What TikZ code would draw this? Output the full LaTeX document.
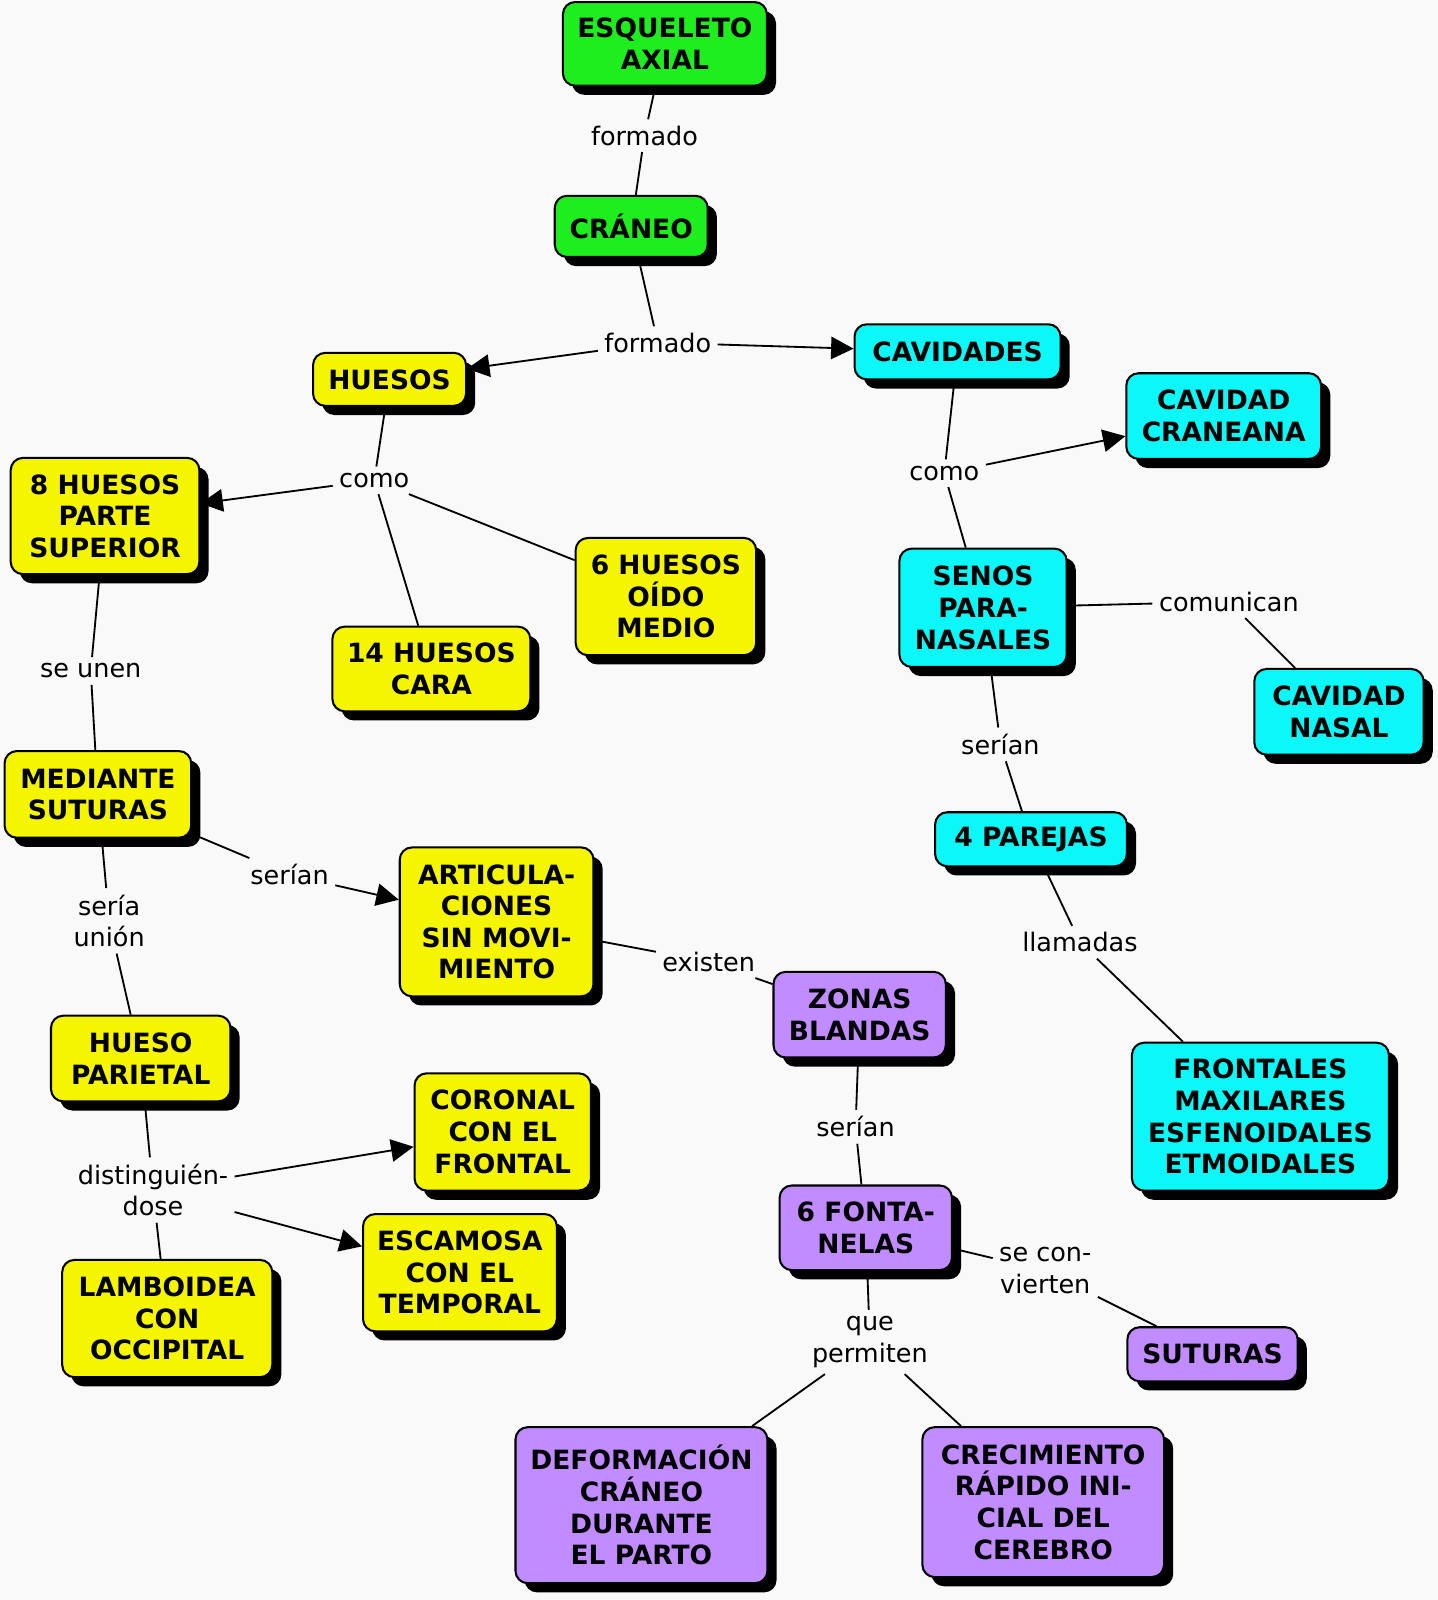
\documentclass[tikz,border=0pt]{standalone}
\usepackage{fontspec}
\setmainfont{DejaVu Sans}
\usetikzlibrary{arrows.meta,shadows}
\definecolor{bgc}{HTML}{F9F9F9}
\definecolor{grn}{HTML}{1EEE1E}
\definecolor{cyn}{HTML}{0CF7F7}
\definecolor{yel}{HTML}{F5F500}
\definecolor{pur}{HTML}{C08CFF}
\tikzset{
  cbox/.style={draw=black, line width=1pt, rounded corners=6pt, align=center,
    font=\bfseries\fontsize{13}{15.5}\selectfont, inner sep=0pt,
    drop shadow={shadow xshift=4.5pt, shadow yshift=-4.5pt, opacity=1, fill=black}},
  lbl/.style={align=center, font=\fontsize{12.5}{15.5}\selectfont, inner sep=3pt},
  conn/.style={line width=0.9pt, draw=black},
  arr/.style={conn, -{Triangle[length=11pt,width=11pt]}},
}
\begin{document}
\begin{tikzpicture}[x=0.5pt,y=-0.5pt]
\fill[bgc] (0,0) rectangle (1410,1569);
\useasboundingbox (0,0) rectangle (1410,1569);
% concepts
\node[cbox, fill=grn, minimum width=100pt, minimum height=41pt] (esq) at (652,43) {ESQUELETO\\AXIAL};
\node[cbox, fill=grn, minimum width=75pt, minimum height=30pt] (cra) at (619,222) {CRÁNEO};
\node[cbox, fill=cyn, minimum width=101pt, minimum height=27pt] (cav) at (939,345) {CAVIDADES};
\node[cbox, fill=yel, minimum width=75pt, minimum height=26pt] (hue) at (382,372) {HUESOS};
\node[cbox, fill=cyn, minimum width=95.5pt, minimum height=42pt] (cavcr) at (1200,408) {CAVIDAD\\CRANEANA};
\node[cbox, fill=yel, minimum width=92.5pt, minimum height=57pt] (h8) at (103,506) {8 HUESOS\\PARTE\\SUPERIOR};
\node[cbox, fill=yel, minimum width=88.5pt, minimum height=57.5pt] (h6) at (653,585) {6 HUESOS\\OÍDO\\MEDIO};
\node[cbox, fill=cyn, minimum width=82pt, minimum height=58pt] (senos) at (964,596) {SENOS\\PARA-\\NASALES};
\node[cbox, fill=yel, minimum width=97pt, minimum height=41.5pt] (h14) at (423,656) {14 HUESOS\\CARA};
\node[cbox, fill=cyn, minimum width=83pt, minimum height=42pt] (cavn) at (1313,698) {CAVIDAD\\NASAL};
\node[cbox, fill=yel, minimum width=91.5pt, minimum height=42.5pt] (med) at (96,779) {MEDIANTE\\SUTURAS};
\node[cbox, fill=cyn, minimum width=94pt, minimum height=26.5pt] (par4) at (1011,823) {4 PAREJAS};
\node[cbox, fill=yel, minimum width=95pt, minimum height=73pt] (art) at (487,904) {ARTICULA-\\CIONES\\SIN MOVI-\\MIENTO};
\node[cbox, fill=pur, minimum width=84.5pt, minimum height=42pt] (zon) at (843,995) {ZONAS\\BLANDAS};
\node[cbox, fill=yel, minimum width=88pt, minimum height=42pt] (hpar) at (138,1038) {HUESO\\PARIETAL};
\node[cbox, fill=cyn, minimum width=126pt, minimum height=72.5pt] (fron) at (1236,1095) {FRONTALES\\MAXILARES\\ESFENOIDALES\\ETMOIDALES};
\node[cbox, fill=yel, minimum width=86.5pt, minimum height=57.5pt] (cor) at (493,1110) {CORONAL\\CON EL\\FRONTAL};
\node[cbox, fill=pur, minimum width=84.5pt, minimum height=41.5pt] (fon) at (849,1204) {6 FONTA-\\NELAS};
\node[cbox, fill=yel, minimum width=95pt, minimum height=57.5pt] (esc) at (451,1248) {ESCAMOSA\\CON EL\\TEMPORAL};
\node[cbox, fill=yel, minimum width=103pt, minimum height=57.5pt] (lam) at (164,1293) {LAMBOIDEA\\CON\\OCCIPITAL};
\node[cbox, fill=pur, minimum width=83.5pt, minimum height=26.5pt] (sut) at (1189,1328) {SUTURAS};
\node[cbox, fill=pur, minimum width=123.5pt, minimum height=76.5pt] (def) at (629,1476) {DEFORMACIÓN\\CRÁNEO\\DURANTE\\EL PARTO};
\node[cbox, fill=pur, minimum width=118.5pt, minimum height=73.5pt] (cre) at (1023,1473) {CRECIMIENTO\\RÁPIDO INI-\\CIAL DEL\\CEREBRO};
% linking phrases
\node[lbl] (l1) at (632,133) {formado};
\node[lbl] (l2) at (645,336) {formado};
\node[lbl] (l3) at (367,471) {como};
\node[lbl] (l4) at (926,464) {como};
\node[lbl] (l5) at (1205,590) {comunican};
\node[lbl] (l6) at (981,730) {serían};
\node[lbl] (l7) at (1059,924) {llamadas};
\node[lbl] (l8) at (89,658) {se unen};
\node[lbl] (l9) at (284,858) {serían};
\node[lbl] (l10) at (107,903) {sería\\unión};
\node[lbl] (l11) at (695,943) {existen};
\node[lbl] (l12) at (839,1105) {serían};
\node[lbl] (l13) at (150,1167) {distinguién-\\dose};
\node[lbl] (l14) at (1025,1246) {se con-\\vierten};
\node[lbl] (l15) at (853,1316) {que\\permiten};
% connectors
\draw[conn] (esq) -- (l1);
\draw[conn] (l1) -- (cra);
\draw[conn] (cra) -- (l2);
\draw[arr] (l2) -- (hue);
\draw[arr] (l2) -- (cav);
\draw[conn] (hue) -- (l3);
\draw[arr] (l3) -- (h8);
\draw[conn] (l3) -- (h14);
\draw[conn] (l3) -- (h6);
\draw[conn] (cav) -- (l4);
\draw[arr] (l4) -- (cavcr);
\draw[conn] (l4) -- (senos);
\draw[conn] (senos) -- (l5);
\draw[conn] (l5) -- (cavn);
\draw[conn] (senos) -- (l6);
\draw[conn] (l6) -- (par4);
\draw[conn] (par4) -- (l7);
\draw[conn] (l7) -- (fron);
\draw[conn] (h8) -- (l8);
\draw[conn] (l8) -- (med);
\draw[conn] (med) -- (l9);
\draw[arr] (l9) -- (art);
\draw[conn] (med) -- (l10);
\draw[conn] (l10) -- (hpar);
\draw[conn] (art) -- (l11);
\draw[conn] (l11) -- (zon);
\draw[conn] (zon) -- (l12);
\draw[conn] (l12) -- (fon);
\draw[conn] (hpar) -- (l13);
\draw[arr] (l13) -- (cor);
\draw[arr] (l13) -- (esc);
\draw[conn] (l13) -- (lam);
\draw[conn] (fon) -- (l14);
\draw[conn] (l14) -- (sut);
\draw[conn] (fon) -- (l15);
\draw[conn] (l15) -- (def);
\draw[conn] (l15) -- (cre);
\end{tikzpicture}
\end{document}
